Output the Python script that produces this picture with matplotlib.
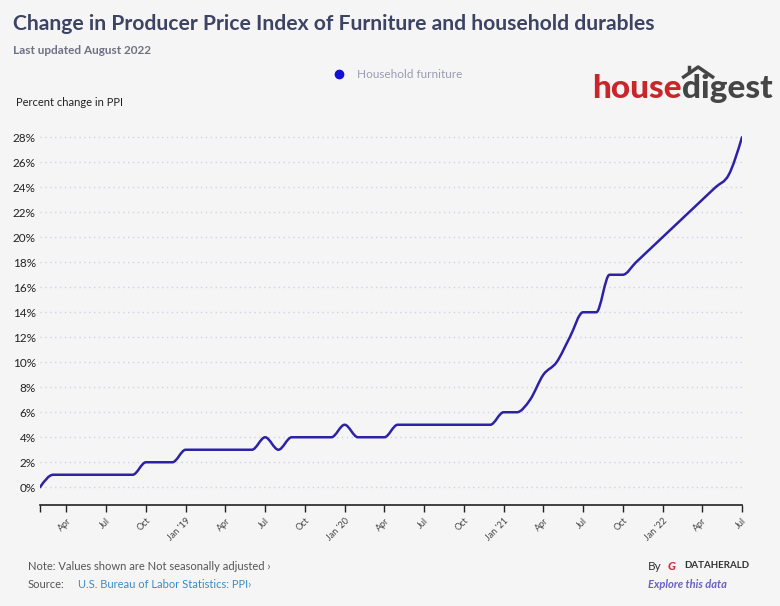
import numpy as np
import matplotlib.pyplot as plt
from matplotlib.path import Path
from matplotlib.patches import PathPatch
from matplotlib.lines import Line2D

plt.rcParams['font.family'] = ['Lato', 'DejaVu Sans']

# monthly values, Feb 2018 .. Jul 2022
ppi_change = [0, 1, 1, 1, 1, 1, 1, 1, 2, 2, 2,          # 2018 Feb-Dec
              3, 3, 3, 3, 3, 3, 4, 3, 4, 4, 4, 4,       # 2019
              5, 4, 4, 4, 5, 5, 5, 5, 5, 5, 5, 5,       # 2020
              6, 6, 7, 9, 10, 12, 14, 14, 17, 17, 18, 19,  # 2021
              20, 21, 22, 23, 24, 25, 28]               # 2022 Jan-Jul
tick_pos = [0] + list(range(2, 54, 3))
tick_labels = [""] + ["Apr", "Jul", "Oct", "Jan '19", "Apr", "Jul", "Oct", "Jan '20",
                      "Apr", "Jul", "Oct", "Jan '21", "Apr", "Jul", "Oct", "Jan '22",
                      "Apr", "Jul"]
y_ticks = list(range(0, 30, 2))

W, H = 780, 606
BG = '#f5f5f5'


def monotone_path(x, y):  # monotone cubic curve (like d3 curveMonotoneX) as bezier path
    x = np.asarray(x, float)
    y = np.asarray(y, float)
    h = np.diff(x)
    d = np.diff(y) / h
    m = np.zeros_like(y)
    for i in range(1, len(y) - 1):
        p = (d[i - 1] * h[i] + d[i] * h[i - 1]) / (h[i - 1] + h[i])
        m[i] = (np.sign(d[i - 1]) + np.sign(d[i])) * min(abs(d[i - 1]), abs(d[i]), 0.5 * abs(p))
    m[0] = (3 * d[0] - m[1]) / 2
    m[-1] = (3 * d[-1] - m[-2]) / 2
    verts = [(x[0], y[0])]
    codes = [Path.MOVETO]
    for i in range(len(h)):
        k = h[i] / 3
        verts += [(x[i] + k, y[i] + m[i] * k), (x[i + 1] - k, y[i + 1] - m[i + 1] * k), (x[i + 1], y[i + 1])]
        codes += [Path.CURVE4] * 3
    return Path(verts, codes)


fig = plt.figure(figsize=(W / 100, H / 100), dpi=100, facecolor=BG)
ax = fig.add_axes([40 / W, 1 - 505 / H, 702 / W, 369 / H])
ax.set_facecolor(BG)

months = np.arange(len(ppi_change))
ax.add_patch(PathPatch(monotone_path(months, ppi_change), fill=False,
                       edgecolor='#2d22a6', lw=1.8, capstyle='round', joinstyle='round'))

ax.set_xlim(0, len(ppi_change) - 1)
ax.set_ylim(-1.42, 28.1)
ax.set_yticks(y_ticks)
ax.set_yticklabels([str(v) + "%" for v in y_ticks], fontsize=8.5, color='#222222')
ax.set_xticks(tick_pos)
ax.set_xticklabels(tick_labels, rotation=45, ha='right', va='top',
                   rotation_mode='anchor', fontsize=6.5, color='#444444')
ax.tick_params(axis='y', length=0, pad=3)
ax.tick_params(axis='x', length=5, width=1, color='#222222', pad=3)
ax.yaxis.grid(True, linestyle=(0, (1, 2.5)), color='#cfd3e6', lw=1)
ax.set_axisbelow(True)
for s in ['top', 'right', 'left']:
    ax.spines[s].set_visible(False)
ax.spines['bottom'].set_color('#222222')
ax.spines['bottom'].set_linewidth(1.2)

# header
fig.text(13 / W, 1 - 24 / H, "Change in Producer Price Index of Furniture and household durables",
         fontsize=15.2, fontweight='bold', color='#3d4463', va='center')
fig.text(13 / W, 1 - 50 / H, "Last updated August 2022", fontsize=8.5,
         fontweight='bold', color='#6e7183', va='center')
fig.text(16 / W, 1 - 102 / H, "Percent change in PPI", fontsize=8, color='#222222', va='center')

leg = fig.legend(handles=[Line2D([], [], marker='o', ls='', color='#1010d8', markersize=6)],
                 labels=["Household furniture"], loc='center',
                 bbox_to_anchor=(395 / W, 1 - 75 / H), frameon=False, fontsize=8.5,
                 labelcolor='#9a9cb2', handletextpad=0.5)

# logo
r = fig.canvas.get_renderer()
t1 = fig.text(592 / W, 1 - 98 / H, "house", fontsize=24, fontweight='black',
              color='#c8262b', va='baseline')
bb = t1.get_window_extent(r)
t2 = fig.text(bb.x1 / W, 1 - 98 / H, "digest", fontsize=24, fontweight='black',
              color='#454545', va='baseline')
dx = t2.get_window_extent(r).x0 + 2
fig.add_artist(Line2D([dx / W, (dx + 14.5) / W, (dx + 29) / W], [1 - 77 / H, 1 - 67 / H, 1 - 77 / H],
                      transform=fig.transFigure, color='#454545', lw=2.5))
fig.add_artist(Line2D([(dx + 5) / W, (dx + 5) / W], [1 - 72 / H, 1 - 67 / H],
                      transform=fig.transFigure, color='#454545', lw=2.5))

# footer
fig.text(28 / W, 1 - 566 / H, "Note: Values shown are Not seasonally adjusted \u203a",
         fontsize=8, color='#555555', va='center')
fig.text(28 / W, 1 - 584 / H, "Source:", fontsize=8, color='#555555', va='center')
fig.text(78 / W, 1 - 584 / H, "U.S. Bureau of Labor Statistics: PPI\u203a",
         fontsize=8, color='#3a8cc4', va='center')
fig.text(648 / W, 1 - 566 / H, "By", fontsize=8.5, color='#333333', va='center')
fig.text(668 / W, 1 - 566 / H, "G", fontsize=8.5, style='italic', fontweight='black',
         color='#d62a3a', va='center')
fig.text(684 / W, 1 - 566 / H, "DATAHERALD", fontsize=7, fontweight='bold',
         color='#333333', va='center')
fig.text(648 / W, 1 - 584 / H, "Explore this data", fontsize=8, style='italic',
         fontweight='bold', color='#6b5fc7', va='center')

fig.savefig('out.png', dpi=100, facecolor=BG)
